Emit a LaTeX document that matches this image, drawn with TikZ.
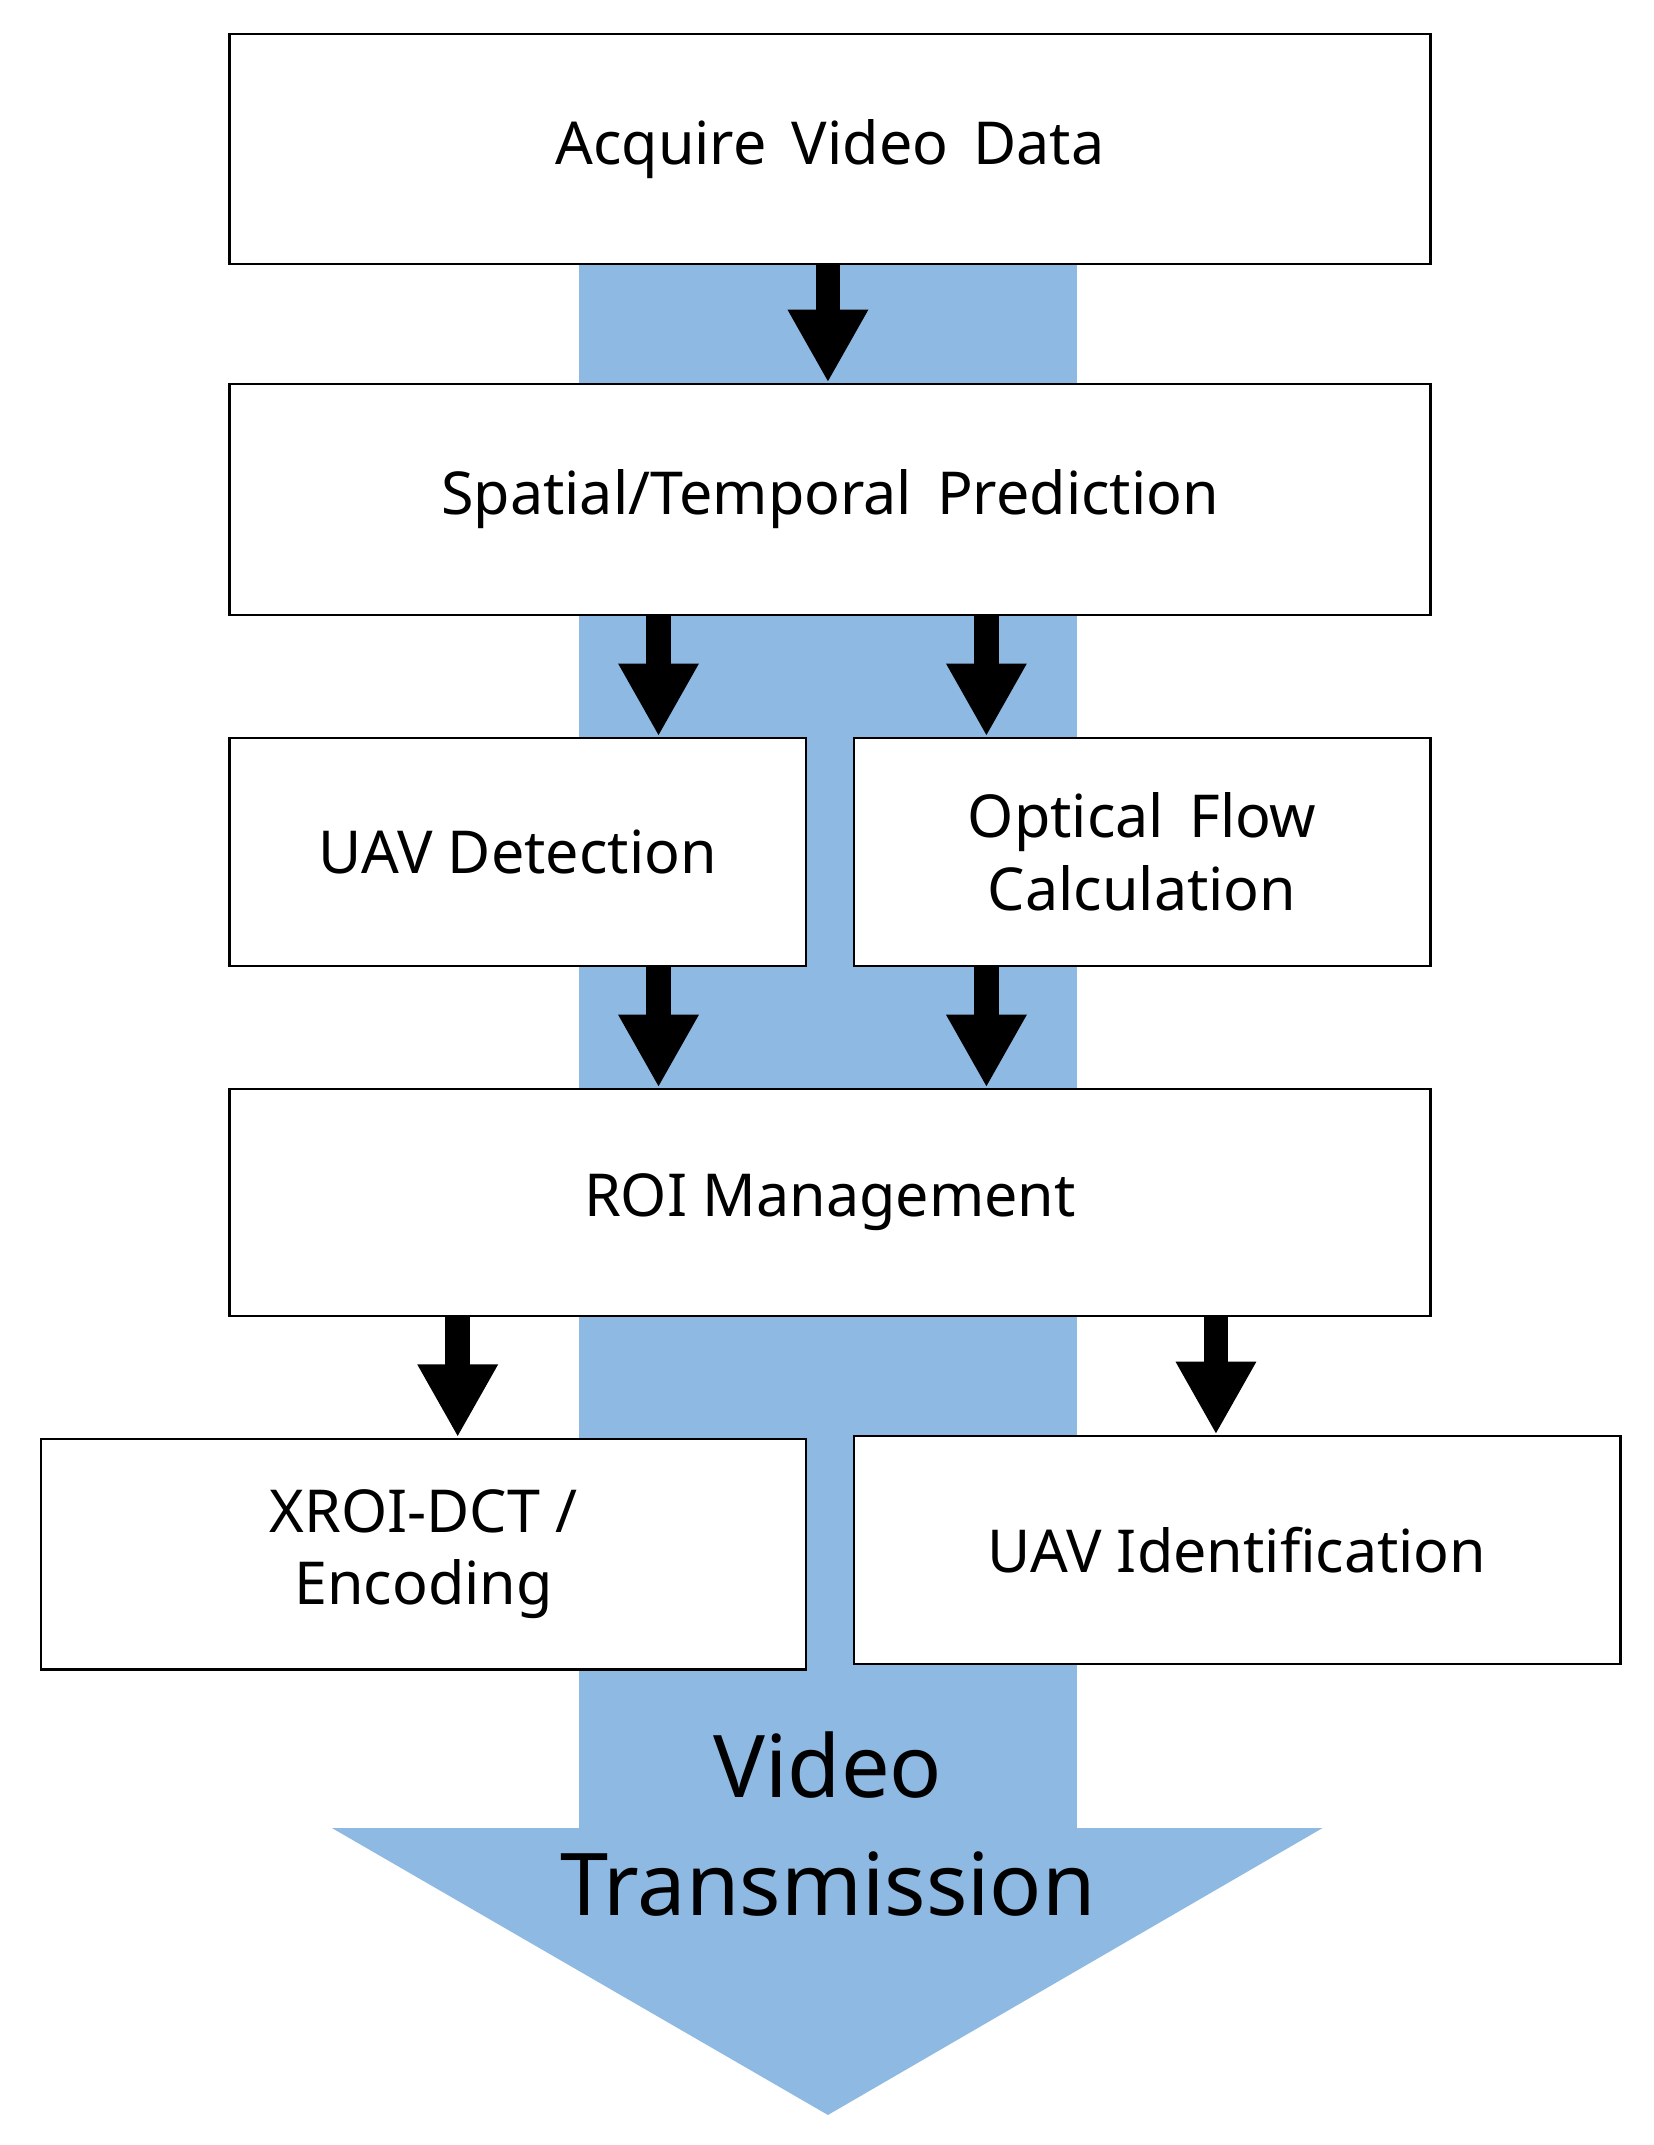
\documentclass[tikz,border=0pt]{standalone}
\usepackage{fontspec}
\setmainfont{Noto Sans}
\begin{document}
\begin{tikzpicture}[x=0.3pt,y=-0.3pt,
 box/.style={draw=black,line width=0.5pt,fill=white,inner sep=0pt,font=\fontsize{13}{16}\selectfont,align=center},
 arr/.style={line width=5.4pt,-{Triangle[length=16pt,width=16.5pt]}},
 shorten >=0pt]
\usetikzlibrary{arrows.meta}
\useasboundingbox (0,0) rectangle (1210,1570);
\definecolor{band}{RGB}{141,185,226}
\fill[band] (424,193) rectangle (788,1340);
\fill[band] (243,1338) -- (968,1338) -- (606,1548) -- cycle;
\node[font=\bfseries\fontsize{19}{26}\selectfont,align=center] (vt) at (606,1335) {Video\\Transmission};
\node[box,minimum width=263.7pt,minimum height=50.4pt] (a) at (607.5,109) {Acquire\, Video\, Data};
\node[box,minimum width=263.7pt,minimum height=50.7pt] (s) at (607.5,365.5) {Spatial/Temporal\, Prediction};
\node[box,minimum width=126.6pt,minimum height=50.1pt] (u) at (379,623.5) {UAV Detection};
\node[box,minimum width=126.6pt,minimum height=50.1pt] (o) at (836,623.5) {Optical\, Flow\\Calculation};
\node[box,minimum width=263.7pt,minimum height=49.8pt] (r) at (607.5,880) {ROI Management};
\node[box,minimum width=168pt,minimum height=50.7pt] (x) at (310,1137.5) {XROI-DCT /\\Encoding};
\node[box,minimum width=168.3pt,minimum height=50.1pt] (i) at (905.5,1134.5) {UAV Identification};
\coordinate (a1) at (606,193); \coordinate (s0) at (606,280);
\draw[arr] (a1) -- (s0);
\coordinate (s1) at (482,450); \coordinate (u0) at (482,539);
\coordinate (s2) at (722,450); \coordinate (o0) at (722,539);
\draw[arr] (s1) -- (u0); \draw[arr] (s2) -- (o0);
\coordinate (u1) at (482,707); \coordinate (r1) at (482,796);
\coordinate (o1) at (722,707); \coordinate (r2) at (722,796);
\draw[arr] (u1) -- (r1); \draw[arr] (o1) -- (r2);
\coordinate (r3) at (335,963); \coordinate (x0) at (335,1052);
\coordinate (r4) at (890,963); \coordinate (i0) at (890,1050);
\draw[arr] (r3) -- (x0); \draw[arr] (r4) -- (i0);
\end{tikzpicture}
\end{document}
